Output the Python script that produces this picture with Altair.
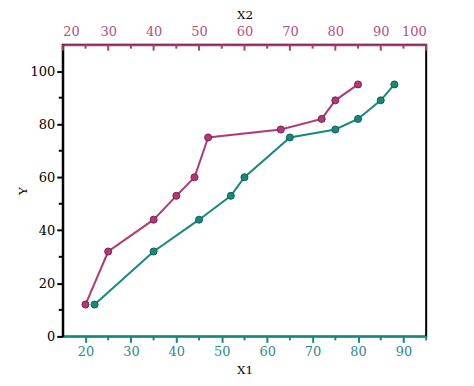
import altair as alt
import pandas as pd

x1_vals = [22, 35, 45, 52, 55, 65, 75, 80, 85, 88]
y1_vals = [12, 32, 44, 53, 60, 75, 78, 82, 89, 95]
x2_vals = [25, 30, 40, 45, 49, 52, 68, 77, 80, 85]
y2_vals = [12, 32, 44, 53, 60, 75, 78, 82, 89, 95]

y_major = [0, 20, 40, 60, 80, 100]
y_minor = [10, 30, 50, 70, 90]
x1_major = [20, 30, 40, 50, 60, 70, 80, 90]
x1_minor = [25, 35, 45, 55, 65, 75, 85, 95]
x2_major = [20, 30, 40, 50, 60, 70, 80, 90, 100]
x2_minor = [25, 35, 45, 55, 65, 75, 85, 95]

teal = "#16897b"
teal_lab = "#2f8a88"
mag = "#b03a75"
mag_lab = "#b0507f"
font = "DejaVu Serif"
W, H = 365, 293
FS = 13
TFS = 12

df1 = pd.DataFrame({"X1": x1_vals, "Y": y1_vals})
df2 = pd.DataFrame({"X2": x2_vals, "Y": y2_vals})

yenc = alt.Y("Y:Q", scale=alt.Scale(domain=[0, 110], nice=False),
             axis=alt.Axis(title="Y", values=y_major, grid=False,
                           domainColor="black", domainWidth=2, tickColor="black",
                           tickWidth=2, tickSize=6, labelFont=font, labelFontSize=FS,
                           labelColor="black", titleFont=font, titleFontSize=TFS,
                           titleFontWeight="normal", titlePadding=1, labelPadding=2))

x1enc = alt.X("X1:Q", scale=alt.Scale(domain=[15, 95], nice=False),
              axis=alt.Axis(orient="bottom", title="X1", values=x1_major,
                            grid=False, domainColor=teal, domainWidth=2, tickColor=teal,
                            tickWidth=2, tickSize=6, labelColor=teal_lab, labelFont=font,
                            labelFontSize=FS, titleFont=font, titleFontSize=TFS,
                            titleFontWeight="normal", titleColor="black", labelPadding=3,
                            titleY=37, titleBaseline="alphabetic"))

x2enc = alt.X("X2:Q", scale=alt.Scale(domain=[20, 100], nice=False),
              axis=alt.Axis(orient="top", title="X2", values=x2_major,
                            grid=False, domainColor=mag, domainWidth=2, ticks=False,
                            labelColor=mag_lab, labelFont=font, labelFontSize=FS,
                            titleFont=font, titleFontSize=TFS, titleFontWeight="normal",
                            titleColor="black", labelPadding=6,
                            titleY=-26, titleBaseline="alphabetic"))

base1 = alt.Chart(df1).encode(x=x1enc, y=yenc)
teal_line = base1.mark_line(color=teal, strokeWidth=2)
teal_pts = base1.mark_point(filled=True, size=50, color=teal, stroke="#0d5f55",
                            strokeWidth=1, opacity=1)
x1_minor_ticks = alt.Chart(pd.DataFrame({"X1": x1_minor})).mark_rule(
    color=teal, strokeWidth=2).encode(
    x=x1enc, y=alt.value(H), y2=alt.value(H + 4))
y_minor_ticks = alt.Chart(pd.DataFrame({"Y": y_minor})).mark_rule(
    color="black", strokeWidth=2).encode(
    y=yenc, x=alt.value(0), x2=alt.value(-4))
teal_group = alt.layer(teal_line, teal_pts, x1_minor_ticks, y_minor_ticks)

base2 = alt.Chart(df2).encode(x=x2enc, y=yenc)
mag_line = base2.mark_line(color=mag, strokeWidth=2)
mag_pts = base2.mark_point(filled=True, size=50, color=mag, stroke="#7d2050",
                           strokeWidth=1, opacity=1)
x2_major_ticks = alt.Chart(pd.DataFrame({"X2": x2_major})).mark_rule(
    color=mag, strokeWidth=2).encode(
    x=x2enc, y=alt.value(0), y2=alt.value(6))
x2_minor_ticks = alt.Chart(pd.DataFrame({"X2": x2_minor})).mark_rule(
    color=mag, strokeWidth=2).encode(
    x=x2enc, y=alt.value(0), y2=alt.value(4))
mag_group = alt.layer(mag_line, mag_pts, x2_major_ticks, x2_minor_ticks)

chart = alt.layer(teal_group, mag_group).resolve_scale(x="independent").properties(
    width=W, height=H,
    autosize=alt.AutoSizeParams(type="none"),
    padding={"left": 55, "top": 36, "right": 40, "bottom": 41},
).configure_view(stroke="black", strokeWidth=2)

chart.save("out.html", embed_options={"renderer": "svg", "actions": False})
